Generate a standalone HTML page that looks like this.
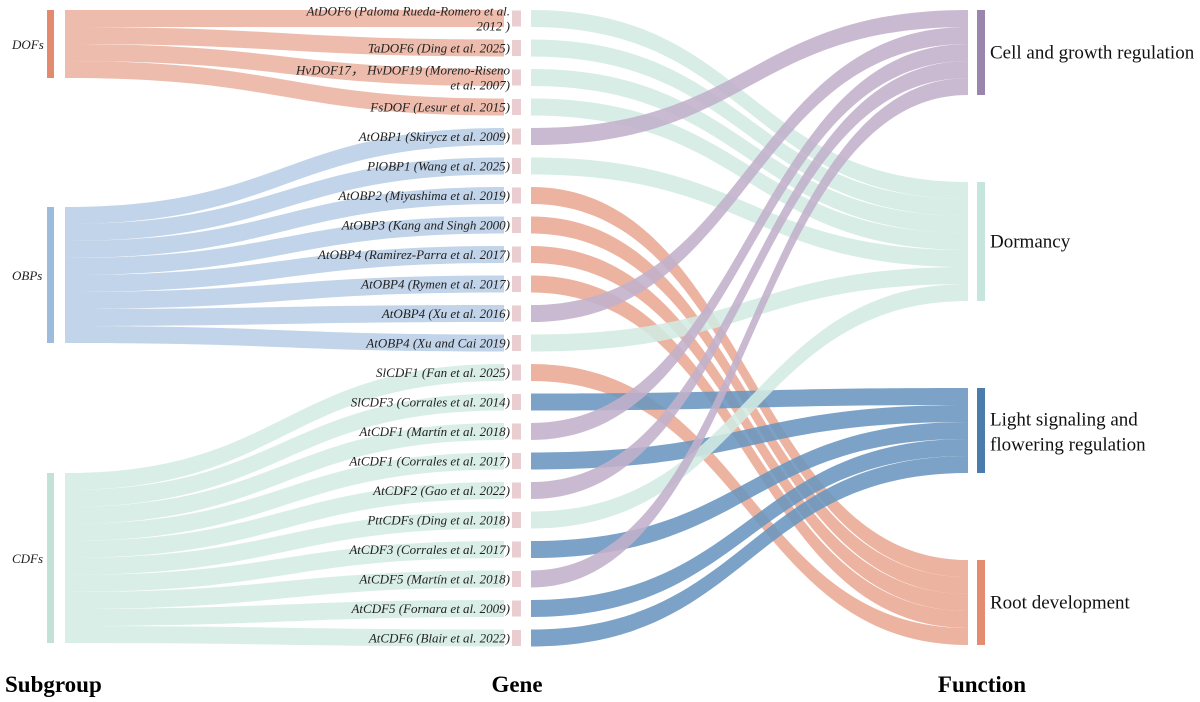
<!DOCTYPE html>
<html><head><meta charset="utf-8"><style>
html,body{margin:0;padding:0;background:#fff;}
svg{display:block;font-family:"Liberation Serif",serif;}
</style></head><body>
<svg id="chart" width="1200" height="702" viewBox="0 0 1200 702">
<g id="flowsL"></g>
<g id="flowsR"></g>
<g id="nodes"></g>
<g id="labels"></g>
<text x="5" y="692" font-size="23" font-weight="bold">Subgroup</text>
<text x="517" y="692" font-size="23" font-weight="bold" text-anchor="middle">Gene</text>
<text x="982" y="692" font-size="23" font-weight="bold" text-anchor="middle">Function</text>
</svg>
<script>
const genes = ["AtDOF6 (Paloma Rueda-Romero et al.|2012 )","TaDOF6  (Ding et al. 2025)","HvDOF17， HvDOF19 (Moreno-Riseno|et al. 2007)","FsDOF (Lesur et al. 2015)","AtOBP1 (Skirycz et al. 2009)","PlOBP1 (Wang et al. 2025)","AtOBP2 (Miyashima et al. 2019)","AtOBP3 (Kang and Singh 2000)","AtOBP4 (Ramirez-Parra et al. 2017)","AtOBP4 (Rymen et al. 2017)","AtOBP4 (Xu et al. 2016)","AtOBP4 (Xu and Cai 2019)","SlCDF1 (Fan et al. 2025)","SlCDF3 (Corrales et al. 2014)","AtCDF1 (Martín et al. 2018)","AtCDF1 (Corrales et al. 2017)","AtCDF2 (Gao et al. 2022)","PttCDFs (Ding et al. 2018)","AtCDF3 (Corrales et al. 2017)","AtCDF5 (Martín et al. 2018)","AtCDF5 (Fornara et al. 2009)","AtCDF6 (Blair et al. 2022)"];
const geneSubgroup = [0,0,0,0,1,1,1,1,1,1,1,1,2,2,2,2,2,2,2,2,2,2];
const geneFunction = [1,1,1,1,0,1,3,3,3,3,0,1,3,2,0,2,0,1,2,0,2,2];
const subgroups = ["DOFs","OBPs","CDFs"];
const subgroupTop = [10,207,473];
const functions = ["Cell and growth regulation","Dormancy","Light signaling and|flowering regulation","Root development"];
const functionTop = [10,182,388,560];

const NS="http://www.w3.org/2000/svg";
const unit=17, geneY0=18.5, geneStep=29.5;
const subCol=["#e38b70","#9dbcdb","#c2e2d8"], subFlow=["#eab09e","#b7cde5","#d4ebe4"];
const funCol=["#9a86ac","#c6e5dc","#4a7dab","#e48c70"], funFlow=["#c2b0cb","#d2eae3","#6a96bf","#eba994"];
function mk(t,a,p){const e=document.createElementNS(NS,t);for(const k in a)e.setAttribute(k,a[k]);p.appendChild(e);return e;}
function geneY(i){return geneY0+i*geneStep;}
function band(x0,y0,x1,y1,h){const m=(x0+x1)/2;return `M${x0},${y0-h/2}C${m},${y0-h/2} ${m},${y1-h/2} ${x1},${y1-h/2}L${x1},${y1+h/2}C${m},${y1+h/2} ${m},${y0+h/2} ${x0},${y0+h/2}Z`;}
const fL=document.getElementById('flowsL'),fR=document.getElementById('flowsR'),nd=document.getElementById('nodes'),lb=document.getElementById('labels');
const subCount=[0,0,0],funCount=[0,0,0,0];
genes.forEach((g,i)=>{
  const s=geneSubgroup[i],f=geneFunction[i],y=geneY(i);
  const ys=subgroupTop[s]+unit*(subCount[s]++)+unit/2;
  const p1=mk('path',{d:band(65,ys,504,y,unit),fill:subFlow[s],'fill-opacity':0.85},fL);
  
  
  const yf=functionTop[f]+unit*(funCount[f]++)+unit/2;
  const p2=mk('path',{d:band(531,y,968,yf,unit),fill:funFlow[f],'fill-opacity':0.88},fR);
  
  
  const r=mk('rect',{x:512,y:y-8,width:9,height:16,fill:'#e9cdd1'},nd);
  
  
  const parts=g.split('|');
  const t=mk('text',{x:510,y:parts.length>1?y-3:y+4.5,'font-size':13,'font-style':'italic','text-anchor':'end',fill:'#222'},lb);
  
  
  parts.forEach((p,k)=>{const ts=mk('tspan',{x:510,dy:k?15:0},t);ts.textContent=p;});
});
subgroups.forEach((s,k)=>{
  const n=subCount[k];
  const r=mk('rect',{x:47,y:subgroupTop[k],width:7,height:n*unit,fill:subCol[k]},nd);
  
  
  const t=mk('text',{x:12,y:subgroupTop[k]+n*unit/2+5,'font-size':13,'font-style':'italic',fill:'#222'},lb);
  
  
  t.textContent=s;
});
functions.forEach((s,k)=>{
  const n=funCount[k];
  const r=mk('rect',{x:977,y:functionTop[k],width:8,height:n*unit,fill:funCol[k]},nd);
  
  
  const parts=s.split('|');
  const cy=functionTop[k]+n*unit/2;
  const t=mk('text',{x:990,y:parts.length>1?cy-5:cy+6,'font-size':19,fill:'#111'},lb);
  
  
  parts.forEach((p,j)=>{const ts=mk('tspan',{x:990,dy:j?25:0},t);ts.textContent=p;});
});
</script>
</body></html>
